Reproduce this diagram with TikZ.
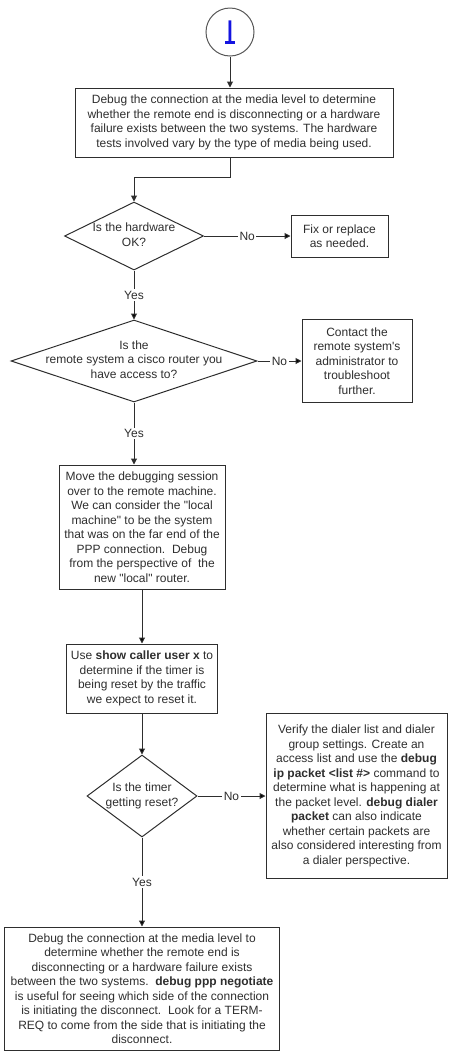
\documentclass[tikz,border=0pt]{standalone}
\usepackage{fontspec}
\setmainfont{Liberation Sans}
\usepackage{tikz}
\usetikzlibrary{arrows.meta,shapes.geometric}
\definecolor{ink}{HTML}{2E2E2E}
\definecolor{linkblue}{HTML}{1414E0}
\newcommand{\dtext}[1]{\makebox[0pt]{\raisebox{-3pt}[0pt][0pt]{\begin{tabular}{@{}c@{}}#1\end{tabular}}}}
\newcommand{\pagemark}{\textcolor{linkblue}{\fontsize{30}{30}\selectfont I\kern0.85pt\llap{\rule[-2.5pt]{10pt}{2.5pt}}\kern-0.85pt}}
\newcommand{\qq}[1]{\textquotedbl#1\textquotedbl}

\begin{document}
\begin{tikzpicture}[x=1pt,y=-1pt,
    every node/.style={font=\fontsize{12}{14.5}\selectfont,text=ink},
    box/.style={draw=ink,line width=1pt,align=center,inner sep=0pt},
    decision/.style={draw=ink,line width=1pt,shape=diamond,inner sep=0pt},
    tag/.style={fill=white,inner sep=1.5pt},
    flow/.style={draw=ink,line width=1pt},
    >={Triangle[length=6pt,width=6pt]}]
    \useasboundingbox (0,0) rectangle (474,1053);
    \node[circle,draw=ink!80,line width=1pt,minimum size=48pt,inner sep=0pt] (start) at (230,32) {\pagemark};
    \node[box,minimum width=318pt,minimum height=69pt] (media) at (234,122.5) {Debug the connection at the media level to determine\\whether the remote end is disconnecting or a hardware\\failure exists between the two systems. The hardware\\tests involved vary by the type of media being used.};
    \node[decision,minimum width=139pt,minimum height=68pt] (hwok) at (134,236) {\dtext{Is the hardware\\OK?}};
    \node[box,minimum width=97pt,minimum height=42pt] (fix) at (339.5,236) {Fix or replace\\as needed.};
    \node[decision,minimum width=246pt,minimum height=82pt] (remote) at (134,361) {\dtext{Is the\\remote system a cisco router you\\have access to?}};
    \node[box,minimum width=110pt,minimum height=83pt] (admin) at (357,361) {Contact the\\remote system\textquotesingle s\\administrator to\\troubleshoot\\further.};
    \node[box,minimum width=166pt,minimum height=124pt] (move) at (142,527) {Move the debugging session\\over to the remote machine.\\We can consider the \textquotedbl local\\machine\textquotedbl{} to be the system\\that was on the far end of the\\PPP connection.\ \ Debug\\from the perspective of\ \ the\\new \qq{local} router.};
    \node[box,minimum width=151pt,minimum height=69pt] (caller) at (142,678.5) {Use \textbf{show caller user x} to\\determine if the timer is\\being reset by the traffic\\we expect to reset it.};
    \node[decision,minimum width=110pt,minimum height=82pt] (timer) at (142,796) {\dtext{Is the timer\\getting reset?}};
    \node[box,minimum width=181pt,minimum height=165pt] (dialer) at (356.5,796) {Verify the dialer list and dialer\\group settings. Create an\\access list and use the \textbf{debug}\\\textbf{ip packet <list \#>} command to\\determine what is happening at\\the packet level. \textbf{debug dialer}\\\textbf{packet} can also indicate\\whether certain packets are\\also considered interesting from\\a dialer perspective.};
    \node[box,minimum width=275pt,minimum height=123pt] (negot) at (142,988.5) {Debug the connection at the media level to\\determine whether the remote end is\\disconnecting or a hardware failure exists\\between the two systems.\ \ \textbf{debug ppp negotiate}\\is useful for seeing which side of the connection\\is initiating the disconnect.\ \ Look for a TERM-\\REQ to come from the side that is initiating the\\disconnect.};
    \draw[flow,->] (start) -- (start |- media.north);
    \draw[flow,->] (start |- media.south) -- ++(0,20) -| (hwok.north);
    \draw[flow,->] (remote.south) -- node[tag]{Yes} (remote.south |- move.north);
    \path[flow,->]
      (hwok) edge node[tag]{No} (fix)
      (hwok) edge node[tag]{Yes} (remote)
      (remote) edge node[tag]{No} (admin)
      (move) edge (caller)
      (caller) edge (timer)
      (timer) edge node[tag]{No} (dialer)
      (timer) edge node[tag]{Yes} (negot);
  \end{tikzpicture}
\end{document}
